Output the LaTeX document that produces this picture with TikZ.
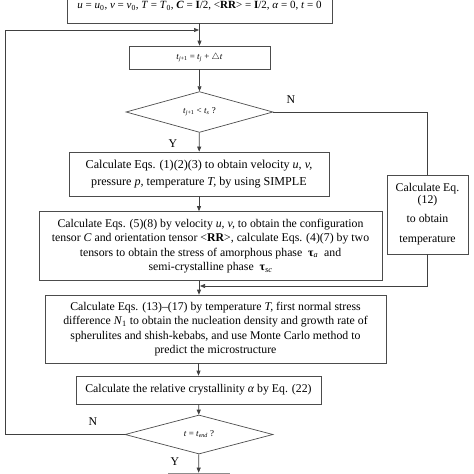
\documentclass[tikz,border=0pt]{standalone}
\usepackage{fontspec}
\setmainfont{Liberation Serif}
\usetikzlibrary{shapes.geometric,arrows.meta}
\newcommand{\boxfont}{\fontsize{11.8}{14.5}\selectfont}
\begin{document}
\begin{tikzpicture}[x=1pt, y=-1pt, >={Triangle[length=5pt,width=4pt]},
  every node/.style={font=\boxfont}]
  \tikzstyle{procbox}=[draw=black!70,line width=0.7pt,inner sep=0pt,align=center]
  \tikzstyle{decide}=[diamond,draw=black!70,line width=0.7pt,inner sep=0pt,font=\small]
  \tikzstyle{link}=[draw=black!75,line width=0.7pt]
  \useasboundingbox (0,0) rectangle (474,474);
  \node[procbox,minimum width=265pt,minimum height=34pt,font=\fontsize{11}{12}\selectfont] (init) at (199.5,6)
    {\textit{u} = \textit{u}\textsubscript{0}, \textit{v} = \textit{v}\textsubscript{0}, \textit{T} = \textit{T}\textsubscript{0}, \textbf{\textit{C}} = \textbf{I}/2, <\textbf{RR}> = \textbf{I}/2, \textit{α} = 0, \textit{t} = 0};
  \node[procbox,minimum width=141pt,minimum height=23pt,font=\small] (tstep) at (199.5,57.5)
    {\textit{t}\textsubscript{\textit{j}+1} = \textit{t}\textsubscript{\textit{j}} + $\triangle$\textit{t}};
  \node[decide,minimum width=147pt,minimum height=38pt] (check) at (199.5,112)
    {\textit{t}\textsubscript{\textit{j}+1} < \textit{t}\textsubscript{\textit{s}} ?};
  \node[procbox,minimum width=260pt,minimum height=44pt,font=\fontsize{12.1}{16.5}\selectfont] (solve) at (199,174)
    {Calculate Eqs. (1)(2)(3) to obtain velocity \textit{u, v,}\\pressure \textit{p,} temperature \textit{T,} by using SIMPLE};
  \node[procbox,minimum width=343pt,minimum height=69pt] (orient) at (210.5,246)
    {Calculate Eqs. (5)(8) by velocity \textit{u, v,} to obtain the configuration\\
     tensor \textit{C} and orientation tensor <\textbf{RR}>, calculate Eqs. (4)(7) by two\\
     tensors to obtain the stress of amorphous phase~~\textbf{τ}\textsubscript{\textit{a}}~~and\\
     semi-crystalline phase~~\textbf{τ}\textsubscript{\textit{sc}}};
  \node[procbox,minimum width=341pt,minimum height=68pt] (crystal) at (215.5,329)
    {Calculate Eqs. (13)–(17) by temperature \textit{T,} first normal stress\\
     difference \textit{N}\textsubscript{1} to obtain the nucleation density and growth rate of\\
     spherulites and shish-kebabs, and use Monte Carlo method to\\
     predict the microstructure};
  \node[procbox,minimum width=245pt,minimum height=28pt] (alpha) at (198.5,390)
    {Calculate the relative crystallinity \textit{α} by Eq. (22)};
  \node[decide,minimum width=148pt,minimum height=39pt] (final) at (199,434.5)
    {\textit{t} = \textit{t}\textsubscript{\textit{end}} ?};
  \node[procbox,minimum width=61pt,minimum height=30pt,draw=black!45] (stop) at (198.5,488) {};
  \node[procbox,minimum width=81pt,minimum height=79pt,font=\fontsize{11.8}{12}\selectfont] (temp) at (427.5,214.5)
    {Calculate Eq.\\(12)\\[7pt]to obtain\\[8pt]temperature};
  \node (n1) at (291,100) {N};
  \node (y1) at (173,144) {Y};
  \node (n2) at (93,422) {N};
  \node (y2) at (175,462) {Y};
  \coordinate (loopin) at (199,30);
  \coordinate (lft) at (5,434.5);
  \coordinate (merge) at (200,286);
  \draw[link,->] (init) -- (tstep);
  \draw[link,->] (tstep) -- (check);
  \draw[link,->] (check) -- (solve);
  \draw[link,->] (solve) -- (solve |- orient.north);
  \draw[link,->] (solve |- orient.south) -- (solve |- crystal.north);
  \draw[link,->] (alpha |- crystal.south) -- (alpha);
  \draw[link,->] (alpha) -- (final);
  \draw[link,->] (final) -- (stop);
  \draw[link,->] (final) -- (lft) |- (loopin);
  \draw[link] (check) -| (temp);
  \draw[link,->] (temp) |- (merge);
\end{tikzpicture}
\end{document}
